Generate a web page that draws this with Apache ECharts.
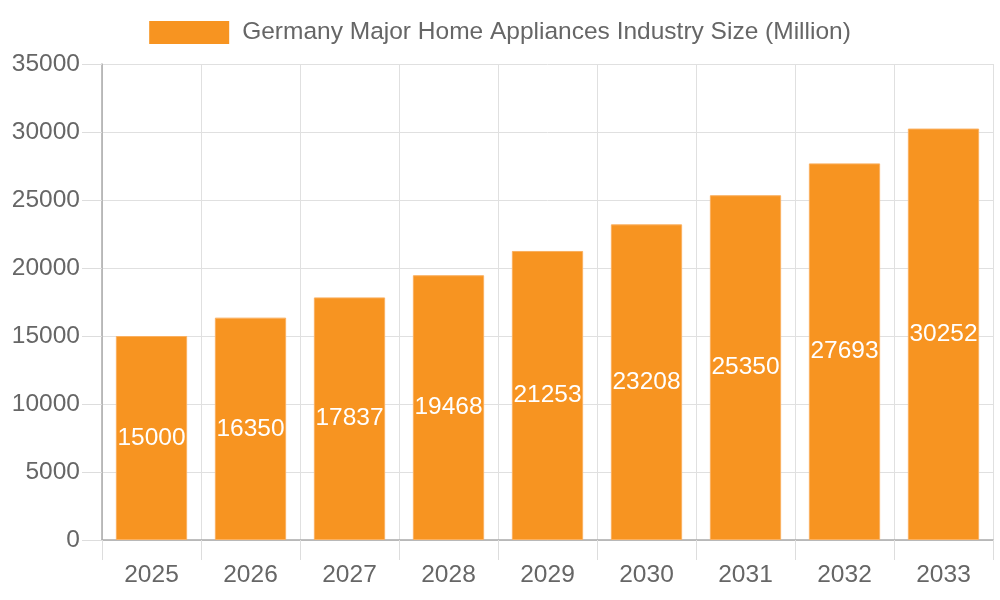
<!DOCTYPE html>
<html>
<head>
<meta charset="utf-8">
<script src="https://cdn.jsdelivr.net/npm/echarts@6/dist/echarts.min.js"></script>
<style>
  html, body { margin: 0; padding: 0; background: #fff; }
  #chart { width: 1000px; height: 600px; }
</style>
</head>
<body>
<div id="chart"></div>
<script>
  var years = ['2025', '2026', '2027', '2028', '2029', '2030', '2031', '2032', '2033'];
  var sizes = [15000, 16350, 17837, 19468, 21253, 23208, 25350, 27693, 30252];
  var seriesName = 'Germany Major Home Appliances Industry Size (Million)';

  var font = '"Liberation Sans", Arial, sans-serif';
  var fs = 24.5;
  var myChart = echarts.init(document.getElementById('chart'));

  var option = {
    animation: false,
    textStyle: { fontFamily: font },
    legend: {
      top: 15,
      left: 'center',
      itemWidth: 80,
      itemHeight: 23,
      icon: 'rect',
      itemStyle: { borderWidth: 0 },
      textStyle: { fontSize: fs, color: '#666', fontFamily: font, lineHeight: 23, padding: [0, 0, 0, 8] },
      data: [seriesName]
    },
    grid: { left: 102, right: 7, top: 64, bottom: 60, containLabel: false },
    xAxis: {
      type: 'category',
      data: years,
      axisLine: { show: true, lineStyle: { color: '#aaa', width: 1.5 } },
      axisTick: { show: true, alignWithLabel: false, length: 20, lineStyle: { color: '#ddd' } },
      axisLabel: { fontSize: fs, color: '#666', margin: 23, fontFamily: font },
      splitLine: { show: true, lineStyle: { color: '#e0e0e0' } }
    },
    yAxis: {
      type: 'value',
      min: 0,
      max: 35000,
      interval: 5000,
      axisLine: { show: true, lineStyle: { color: '#aaa', width: 1.5 } },
      axisTick: { show: true, length: 20, lineStyle: { color: '#ddd' } },
      axisLabel: {
        fontSize: fs, color: '#666', margin: 22, fontFamily: font,
        formatter: function (v) { return String(v); }
      },
      splitLine: { show: true, lineStyle: { color: '#e0e0e0' } }
    },
    series: [{
      name: seriesName,
      type: 'bar',
      data: sizes,
      barCategoryGap: '28%',
      itemStyle: { color: '#F79421', borderColor: '#fab060', borderWidth: 1 },
      label: {
        show: true,
        position: 'inside',
        color: '#fff',
        fontSize: fs,
        fontFamily: font
      }
    }]
  };

  myChart.setOption(option);
</script>
</body>
</html>
